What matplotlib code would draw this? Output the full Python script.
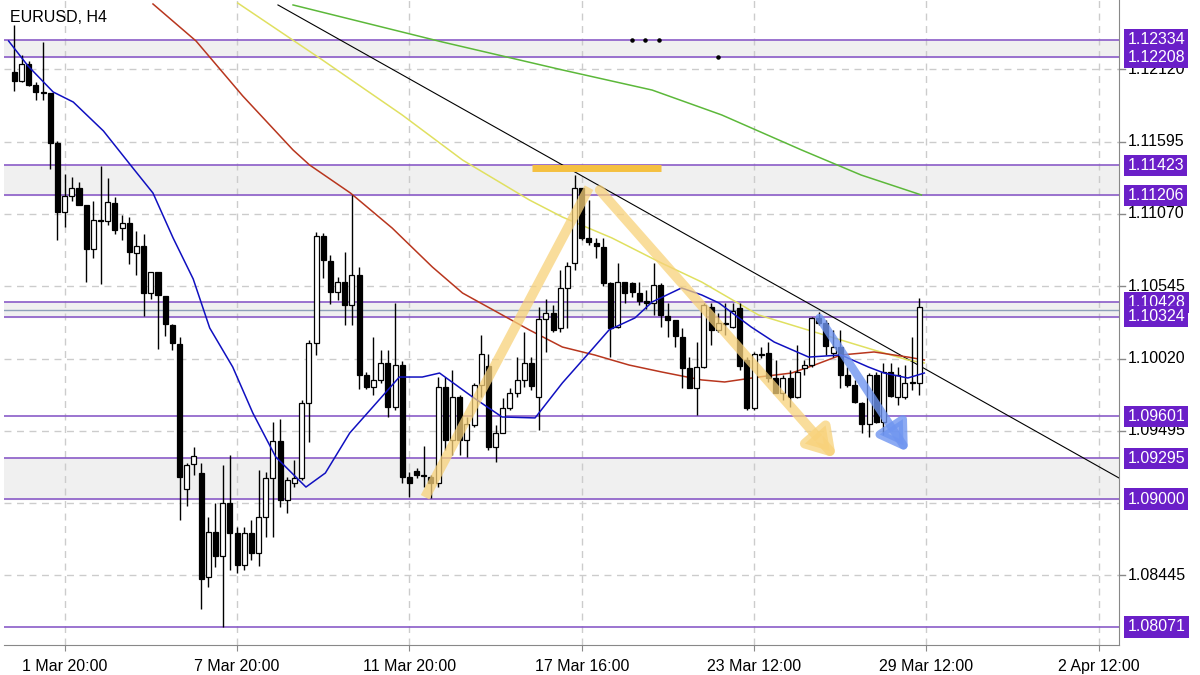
import matplotlib
matplotlib.use("Agg")
import matplotlib.pyplot as plt
import matplotlib.transforms as mtransforms
import numpy as np

plt.rcParams['font.family'] = ['Liberation Sans', 'DejaVu Sans']

# H4 candles
opens = [1.12101, 1.12036, 1.12159, 1.12007, 1.11956, 1.11949, 1.11586, 1.11084, 1.11201, 1.11259,
         1.11135, 1.10816, 1.11026, 1.11019, 1.11150, 1.10968, 1.11005, 1.10787, 1.10838, 1.10496,
         1.10649, 1.10474, 1.10264, 1.10126, 1.09073, 1.09254, 1.09189, 1.08434, 1.08761, 1.08586,
         1.08971, 1.08753, 1.08521, 1.08753, 1.08608, 1.08870, 1.09153, 1.09422, 1.08993, 1.09117,
         1.09153, 1.09697, 1.10133, 1.10910, 1.10729, 1.10503, 1.10576, 1.10409, 1.10627, 1.09901,
         1.09814, 1.09865, 1.09988, 1.09668, 1.09973, 1.09160, 1.09204, 1.09175, 1.09160, 1.09117,
         1.09814, 1.09429, 1.09741, 1.09429, 1.09538, 1.09828, 1.09966, 1.09378, 1.09480, 1.09661,
         1.09770, 1.09865, 1.09988, 1.09741, 1.10307, 1.10351, 1.10242, 1.10533, 1.10714, 1.11259,
         1.10896, 1.10860, 1.10830, 1.10569, 1.10250, 1.10576, 1.10569, 1.10496, 1.10438, 1.10424,
         1.10554, 1.10329, 1.10300, 1.10177, 1.09952, 1.09806, 1.09959, 1.10395, 1.10228, 1.10278,
         1.10250, 1.10387, 1.10010, 1.09661, 1.10053, 1.10061, 1.09879, 1.09770, 1.09879, 1.09741,
         1.09952, 1.09973, 1.10315, 1.10278, 1.10061, 1.10104, 1.09901, 1.09828, 1.09697, 1.09545,
         1.09901, 1.09560, 1.09923, 1.09741, 1.09741, 1.09843, 1.09843]
highs = [1.12442, 1.12225, 1.12181, 1.12029, 1.12319, 1.11949, 1.11600, 1.11360, 1.11339, 1.11302,
         1.11135, 1.11164, 1.11419, 1.11331, 1.11193, 1.11063, 1.11048, 1.10946, 1.10925, 1.10649,
         1.10649, 1.10474, 1.10271, 1.10177, 1.09262, 1.09378, 1.09262, 1.08870, 1.08971, 1.09247,
         1.09320, 1.08797, 1.08797, 1.08848, 1.09211, 1.09196, 1.09560, 1.09581, 1.09160, 1.09283,
         1.09719, 1.10155, 1.10939, 1.10932, 1.10772, 1.10612, 1.10794, 1.11208, 1.10685, 1.09920,
         1.10177, 1.10082, 1.10082, 1.10424, 1.10002, 1.09196, 1.09225, 1.09385, 1.09175, 1.09886,
         1.09886, 1.09937, 1.09756, 1.09596, 1.09843, 1.10191, 1.10053, 1.09538, 1.09734, 1.09807,
         1.10031, 1.10213, 1.10031, 1.10395, 1.10453, 1.10409, 1.10663, 1.10721, 1.11353, 1.11259,
         1.11172, 1.10896, 1.10896, 1.10576, 1.10714, 1.10576, 1.10576, 1.10576, 1.10518, 1.10714,
         1.10569, 1.10424, 1.10300, 1.10242, 1.10031, 1.10140, 1.10424, 1.10424, 1.10351, 1.10424,
         1.10424, 1.10424, 1.10031, 1.10068, 1.10104, 1.10140, 1.10010, 1.09901, 1.09937, 1.10119,
         1.10010, 1.10322, 1.10358, 1.10300, 1.10228, 1.10228, 1.09959, 1.09865, 1.09705, 1.09915,
         1.09923, 1.09988, 1.09988, 1.09959, 1.09973, 1.10177, 1.10460]
lows = [1.11963, 1.12029, 1.11999, 1.11898, 1.11898, 1.11397, 1.10881, 1.10976, 1.11164, 1.11135,
        1.10576, 1.10750, 1.10562, 1.10990, 1.10925, 1.10881, 1.10707, 1.10627, 1.10329, 1.10453,
        1.10090, 1.10184, 1.10082, 1.08848, 1.08949, 1.09175, 1.08201, 1.08361, 1.08506, 1.08071,
        1.08485, 1.08463, 1.08485, 1.08557, 1.08514, 1.08724, 1.08724, 1.08942, 1.08899, 1.09088,
        1.09138, 1.09414, 1.10046, 1.10605, 1.10416, 1.10445, 1.10264, 1.10264, 1.09799, 1.09799,
        1.09756, 1.09843, 1.09596, 1.09647, 1.09117, 1.09015, 1.09153, 1.09088, 1.09008, 1.09088,
        1.09356, 1.09320, 1.09320, 1.09305, 1.09523, 1.09741, 1.09356, 1.09269, 1.09480, 1.09647,
        1.09741, 1.09814, 1.09792, 1.09501, 1.10068, 1.10213, 1.10213, 1.10242, 1.10663, 1.10881,
        1.10845, 1.10750, 1.10547, 1.10031, 1.10242, 1.10424, 1.10467, 1.10409, 1.10380, 1.10337,
        1.10250, 1.10177, 1.10104, 1.09806, 1.09806, 1.09610, 1.09952, 1.10119, 1.10213, 1.10191,
        1.10242, 1.09937, 1.09647, 1.09647, 1.10024, 1.09850, 1.09770, 1.09719, 1.09668, 1.09734,
        1.09901, 1.09959, 1.10264, 1.10046, 1.10031, 1.09806, 1.09814, 1.09697, 1.09480, 1.09451,
        1.09552, 1.09465, 1.09741, 1.09683, 1.09726, 1.09792, 1.09756]
closes = [1.12036, 1.12159, 1.12007, 1.11956, 1.11949, 1.11586, 1.11084, 1.11201, 1.11259, 1.11135,
          1.10816, 1.11026, 1.11019, 1.11157, 1.10954, 1.11005, 1.10794, 1.10838, 1.10496, 1.10649,
          1.10482, 1.10271, 1.10133, 1.09160, 1.09247, 1.09313, 1.08419, 1.08761, 1.08586, 1.08971,
          1.08753, 1.08521, 1.08753, 1.08608, 1.08870, 1.09153, 1.09422, 1.08993, 1.09138, 1.09153,
          1.09697, 1.10133, 1.10910, 1.10736, 1.10503, 1.10576, 1.10409, 1.10627, 1.09901, 1.09814,
          1.09865, 1.09988, 1.09668, 1.09973, 1.09160, 1.09117, 1.09175, 1.09168, 1.09117, 1.09814,
          1.09429, 1.09741, 1.09429, 1.09545, 1.09828, 1.10053, 1.09378, 1.09480, 1.09661, 1.09770,
          1.09865, 1.09988, 1.09821, 1.10307, 1.10351, 1.10228, 1.10533, 1.10692, 1.11259, 1.10896,
          1.10867, 1.10838, 1.10569, 1.10242, 1.10576, 1.10496, 1.10503, 1.10438, 1.10424, 1.10554,
          1.10337, 1.10300, 1.10184, 1.09952, 1.09806, 1.09959, 1.10409, 1.10228, 1.10278, 1.10271,
          1.10366, 1.09966, 1.09661, 1.10053, 1.10046, 1.09879, 1.09770, 1.09879, 1.09741, 1.09923,
          1.09973, 1.10315, 1.10278, 1.10111, 1.10104, 1.09901, 1.09828, 1.09705, 1.09545, 1.09901,
          1.09560, 1.09923, 1.09748, 1.09901, 1.09843, 1.09850, 1.10395]

# moving averages, sampled along the curves (bar index, price)
ma_blue_idx = [-0.8, 1.9, 5.4, 8.2, 12.4, 16.5, 19.3, 22.1, 24.9, 27.2, 30.4, 33.2, 36.4, 40.6, 43.3,
               46.7, 49.9, 53.6, 56.8, 59.2, 63.8, 67.9, 72.5, 76.3, 80.0, 82.8, 86.4, 88.8, 92.9,
               95.7, 98.1, 102.6, 105.8, 110.6, 115.1, 118.9, 121.1, 124.4, 126.7]
ma_blue = [1.12326, 1.12145, 1.11956, 1.11883, 1.11673, 1.11404, 1.11222, 1.10896, 1.10598, 1.10242,
           1.09959, 1.09625, 1.09305, 1.09087, 1.09189, 1.09480, 1.09668, 1.09886, 1.09886, 1.09915,
           1.09741, 1.09596, 1.09589, 1.09843, 1.10061, 1.10228, 1.10315, 1.10431, 1.10533, 1.10482,
           1.10424, 1.10249, 1.10140, 1.10031, 1.10046, 1.09959, 1.09915, 1.09879, 1.09915]
ma_red_idx = [19.3, 25.3, 31.8, 38.8, 41.1, 46.8, 52.6, 58.2, 62.4, 71.7, 76.3, 80.8, 85.6, 90.1,
              95.7, 98.9, 103.6, 108.2, 111.4, 115.1, 119.7, 124.4, 126.7]
ma_red = [1.12595, 1.12326, 1.11927, 1.11535, 1.11426, 1.11222, 1.10968, 1.10685, 1.10496, 1.10228,
          1.10104, 1.10046, 1.09973, 1.09923, 1.09865, 1.09850, 1.09886, 1.09915, 1.09973, 1.10046,
          1.10068, 1.10031, 1.10010]
ma_yellow_idx = [31.1, 42.9, 54.0, 62.4, 71.7, 76.3, 83.2, 90.1, 95.7, 103.6, 112.8, 119.7, 124.4, 126.7]
ma_yellow = [1.12602, 1.12188, 1.11789, 1.11462, 1.11172, 1.11048, 1.10896, 1.10714, 1.10576, 1.10337,
             1.10191, 1.10082, 1.10010, 1.09988]
ma_green_idx = [38.8, 59.6, 76.3, 88.8, 98.5, 109.6, 117.9, 126.3]
ma_green = [1.12588, 1.12319, 1.12116, 1.11970, 1.11789, 1.11535, 1.11353, 1.11208]

levels = [1.12334, 1.12208, 1.11423, 1.11206, 1.10428, 1.10324, 1.09601, 1.09295, 1.09000, 1.08071]
zones = [(1.12208, 1.12334), (1.11206, 1.11423), (1.10324, 1.10428), (1.09000, 1.09295)]
grid_prices = [1.12120, 1.11595, 1.11070, 1.10545, 1.10020, 1.09495, 1.08970, 1.08445]
grid_labels = ['1.12120', '1.11595', '1.11070', '1.10545', '1.10020', '1.09495', '', '1.08445']
tick_idx = [7, 31, 55, 79, 103, 127, 151]
tick_labels = ['1 Mar 20:00', '7 Mar 20:00', '11 Mar 20:00', '17 Mar 16:00',
               '23 Mar 12:00', '29 Mar 12:00', '2 Apr 12:00']

trend_idx = [36.7, 153.8]
trend_px = [1.12588, 1.09153]

PURPLE = '#6a1fc8'

fig = plt.figure(figsize=(12, 6.75), dpi=100)
ax = fig.add_axes([0.003, 30 / 675, 1115 / 1200, 645 / 675])
ax.set_xlim(-1.5, 153.75)
ax.set_ylim(1.0794, 1.12624)

for lo, hi in zones:
    ax.axhspan(lo, hi, color='#f0f0f0', zorder=0)
for p in grid_prices:
    ax.axhline(p, color='#cccccc', lw=1, ls=(0, (5, 4)), zorder=0.5)
for t in tick_idx:
    ax.axvline(t, color='#cccccc', lw=1, ls=(0, (5, 4)), zorder=0.5)
for p in levels:
    ax.axhline(p, color='#8a5cc8', lw=1.2, zorder=1)
ax.axhline(1.10370, color='#8fa0b8', lw=1, zorder=1)

ax.plot(trend_idx, trend_px, color='black', lw=0.8, zorder=2)
ax.plot(ma_green_idx, ma_green, color='#5cb83a', lw=1.1, zorder=2)
ax.plot(ma_yellow_idx, ma_yellow, color='#e0e060', lw=1.1, zorder=2)
ax.plot(ma_red_idx, ma_red, color='#b8361e', lw=1.1, zorder=2)

# candles
x = np.arange(len(closes))
o = np.array(opens)
c = np.array(closes)
ax.vlines(x, lows, highs, color='black', lw=1, zorder=3)
up = c >= o
body_lo = np.minimum(o, c)
body_h = np.maximum(np.abs(c - o), 0.00003)
ax.bar(x[up], body_h[up], bottom=body_lo[up], width=0.7, color='white', edgecolor='black', lw=0.9, zorder=4)
ax.bar(x[~up], body_h[~up], bottom=body_lo[~up], width=0.7, color='black', edgecolor='black', lw=0.9, zorder=4)

ax.plot(ma_blue_idx, ma_blue, color='#1010c0', lw=1.1, zorder=5)

# drawn annotations
ax.plot([72.1, 90.1], [1.11404, 1.11404], color='#f5c040', lw=5, solid_capstyle='butt', zorder=6)
ax.plot([57.5, 79.7], [1.09044, 1.11230], color='#f8d27a', lw=7, alpha=0.75, zorder=6)
ax.annotate('', xy=(114.4, 1.09298), xytext=(81.5, 1.11244),
            arrowprops=dict(arrowstyle='-|>,head_width=1.0,head_length=1.6', color='#f8d27a',
                            lw=7, alpha=0.75, shrinkA=0, shrinkB=0), zorder=6)
ax.annotate('', xy=(124.4, 1.09342), xytext=(112.1, 1.10315),
            arrowprops=dict(arrowstyle='-|>,head_width=1.0,head_length=1.6', color='#6f95f0',
                            lw=6, alpha=0.8, shrinkA=0, shrinkB=0), zorder=6)
ax.scatter([86, 87.8, 89.7], [1.12334] * 3, s=5, color='black', zorder=7)
ax.scatter([98], [1.12208], s=5, color='black', zorder=7)

ax.text(0.006, 0.985, 'EURUSD, H4', transform=ax.transAxes, fontsize=11.5, va='top', zorder=8)

# right price scale
ax.set_yticks([])
ax.set_xticks(tick_idx)
ax.set_xticklabels(tick_labels, fontsize=11.5)
ax.tick_params(axis='x', length=4, color='#888888', pad=6)
for side in ['top', 'left']:
    ax.spines[side].set_visible(False)
ax.spines['right'].set_color('#888888')
ax.spines['bottom'].set_color('#888888')

trans = mtransforms.blended_transform_factory(ax.transAxes, ax.transData)
for p, lab in zip(grid_prices, grid_labels):
    if lab:
        ax.plot([1.0, 1.006], [p, p], transform=trans, color='#888888', lw=1, clip_on=False)
        ax.text(1.008, p, lab, transform=trans, fontsize=11.5, va='center', ha='left')
for p in levels:
    ax.text(1.008, p, f'{p:.5f}', transform=trans, fontsize=11.5, va='center', ha='left',
            color='white', zorder=9,
            bbox=dict(boxstyle='square,pad=0.2', fc=PURPLE, ec='none'))

fig.savefig('out.png', dpi=100)
